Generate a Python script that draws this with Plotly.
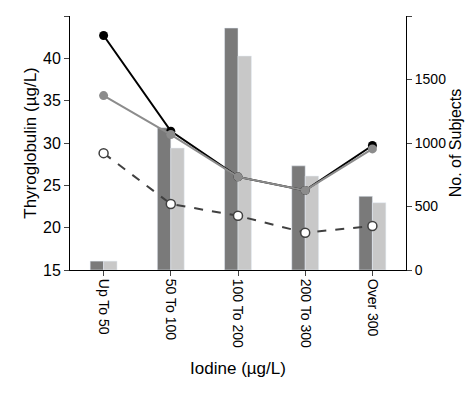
import plotly.graph_objects as go

categories = ['Up To 50', '50 To 100', '100 To 200', '200 To 300', 'Over 300']
subjects_dark = [70, 1120, 1905, 820, 580]
subjects_light = [70, 960, 1685, 740, 530]
tg_black = [42.7, 31.4, 26.0, 24.4, 29.7]
tg_grey = [35.6, 31.0, 26.0, 24.4, 29.3]
tg_dashed = [28.8, 22.8, 21.4, 19.4, 20.2]

fig = go.Figure()
# bars on the base axis (right side), lines on the overlay axis so they draw on top
fig.add_trace(go.Bar(x=categories, y=subjects_dark, marker_color='#7a7a7a', width=0.2, offset=-0.2))
fig.add_trace(go.Bar(x=categories, y=subjects_light, marker_color='#c8c8c8', width=0.2, offset=0.0))
fig.add_trace(go.Scatter(x=categories, y=tg_black, mode='lines+markers', yaxis='y2',
                         line=dict(color='black', width=2), marker=dict(color='black', size=9)))
fig.add_trace(go.Scatter(x=categories, y=tg_grey, mode='lines+markers', yaxis='y2',
                         line=dict(color='#8c8c8c', width=2), marker=dict(color='#8c8c8c', size=9)))
fig.add_trace(go.Scatter(x=categories, y=tg_dashed, mode='lines+markers', yaxis='y2',
                         line=dict(color='#404040', width=2, dash='dash'),
                         marker=dict(color='white', size=9, line=dict(color='#404040', width=1.5))))

fig.update_layout(
    width=474, height=401, showlegend=False,
    margin=dict(l=62, r=76, t=8, b=139),
    plot_bgcolor='white', paper_bgcolor='white',
    font=dict(family='Arial, Liberation Sans', size=14, color='black'),
    barmode='overlay',
    xaxis=dict(tickangle=90, showline=True, linecolor='black', ticks='outside',
               tickfont=dict(size=14),
               title=dict(text='Iodine (µg/L)', font=dict(size=17))),
    yaxis=dict(range=[0, 2000], tickvals=[0, 500, 1000, 1500, 2000], side='right', showline=True,
               linecolor='black', ticks='outside', showgrid=False, zeroline=False,
               tickfont=dict(size=14),
               title=dict(text='No. of Subjects', font=dict(size=16), standoff=4)),
    yaxis2=dict(range=[15, 45], dtick=5, overlaying='y', side='left', showline=True,
                linecolor='black', ticks='outside', showgrid=False, tickfont=dict(size=16),
                title=dict(text='Thyroglobulin (µg/L)', font=dict(size=17), standoff=2)),
)
fig.write_html('out.html')
